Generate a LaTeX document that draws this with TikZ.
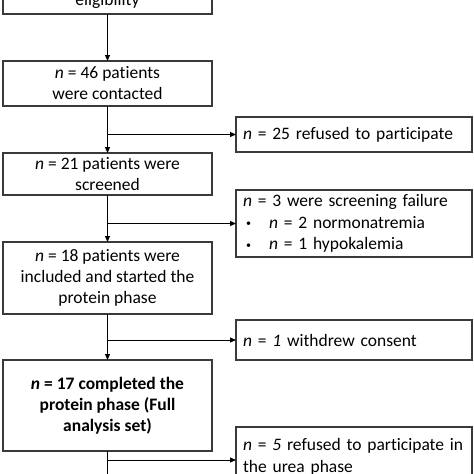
\documentclass[tikz,border=0pt]{standalone}
\usepackage{fontspec}
\setmainfont{Carlito}[Ligatures=NoCommon]
\usetikzlibrary{arrows.meta}
\definecolor{boxline}{HTML}{3A3A3A}
\tikzset{
  basebox/.style={draw=boxline, line width=1.3pt, fill=white, outer sep=0pt,
    font=\fontsize{17.5}{21}\selectfont},
  lbox/.style={basebox, minimum width=209pt, align=center},
  rbox/.style={basebox, minimum width=236pt, text width=222pt, align=left, inner xsep=7pt,
    font=\fontsize{17.5}{21.5}\selectfont},
  flow/.style={draw=black, line width=1pt, -{Triangle[length=6pt,width=5pt]}},
  plain/.style={draw=black, line width=1pt}
}
\newcommand{\bul}{\makebox[26pt][l]{\hspace{3pt}\raisebox{1.5pt}{\fontsize{10}{10}\selectfont •}}}
\begin{document}
\begin{tikzpicture}[x=1pt,y=-1pt]
\clip (0,0) rectangle (474,474);
\fill[white] (0,0) rectangle (474,474);
% left column
\node[lbox, anchor=base, text height=50pt, text depth=9pt, inner ysep=0pt] (b1) at (107.5,5) {eligibility};
\node[lbox, minimum height=45pt] (b2) at (107.5,83.5) {\textit{n} = 46 patients\\were contacted};
\node[lbox, minimum height=42pt] (b3) at (107.5,174) {\textit{n} = 21 patients were\\screened};
\node[lbox, minimum height=72pt] (b4) at (107.5,278) {\textit{n} = 18 patients were\\included and started the\\protein phase};
\node[lbox, minimum height=91pt, font=\fontsize{17.5}{21}\selectfont\bfseries] (b5) at (107.5,405.5) {\textit{n} = 17 completed the\\protein phase (Full\\analysis set)};
% right column
\node[rbox, minimum height=35pt] (r1) at (354,134.5) {\textit{n} = 25 refused to participate};
\node[rbox, minimum height=67pt] (r2) at (354,223.5) {\textit{n} = 3 were screening failure\\\bul\textit{n} = 2 normonatremia\\\bul\textit{n} = 1 hypokalemia};
\node[rbox, minimum height=40pt] (r3) at (354,340) {\textit{n} = \textit{1} withdrew consent};
\node[rbox, minimum height=60pt] (r4) at (354,457) {\textit{n} = \textit{5} refused to participate in\\the urea phase};
% junctions
\coordinate (j1) at (b2.south |- r1.west);
\coordinate (j2) at (b3.south |- r2.west);
\coordinate (j3) at (b4.south |- r3.west);
\coordinate (j4) at (107.5,460);
\coordinate (bend) at (107.5,490);
% connectors
\draw[flow] (b1) -- (b2);
\draw[flow] (b2) -- (b3);
\draw[flow] (b3) -- (b4);
\draw[flow] (b4) -- (b5);
\draw[plain] (b5) -- (bend);
\draw[flow] (j1) -- (r1.west);
\draw[flow] (j2) -- (r2.west);
\draw[flow] (j3) -- (r3.west);
\draw[flow] (j4) -- (j4 -| r4.west);
\end{tikzpicture}
\end{document}
